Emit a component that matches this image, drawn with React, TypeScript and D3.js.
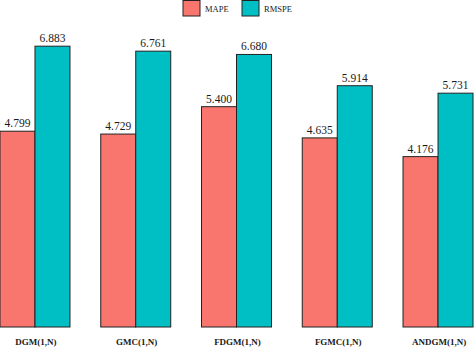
import React from "react";
import * as d3 from "d3";

const categories = ["DGM(1,N)", "GMC(1,N)", "FDGM(1,N)", "FGMC(1,N)", "ANDGM(1,N)"];
const seriesNames = ["MAPE", "RMSPE"];
const mapeValues = [4.799, 4.729, 5.4, 4.635, 4.176];
const rmspeValues = [6.883, 6.761, 6.68, 5.914, 5.731];
const valueLabels = [
  ["4.799", "4.729", "5.400", "4.635", "4.176"],
  ["6.883", "6.761", "6.680", "5.914", "5.731"],
];
const colors = ["#F8766D", "#00BFC4"];

const W = 474;
const H = 347;

export default function App() {
  const x0 = d3.scaleBand<string>().domain(categories).range([-15.4, 488.4]).padding(0);
  const groupW = 70;
  const x1 = d3.scaleBand<string>().domain(seriesNames).range([0, groupW]).padding(0);
  const y = d3.scaleLinear().domain([0, 8]).range([327, 0.6]);
  const data = [mapeValues, rmspeValues];
  const font = "'Times New Roman', Times, 'Liberation Serif', serif";

  return (
    <svg width={W} height={H} style={{ position: "absolute", left: 0, top: 0, background: "#fff" }}>
      <rect width={W} height={H} fill="#fff" />
      {categories.map((c, i) => {
        const cx = (x0(c) as number) + x0.bandwidth() / 2;
        return (
          <g key={c}>
            {seriesNames.map((s, j) => {
              const v = data[j][i];
              const bx = cx - groupW / 2 + (x1(s) as number);
              return (
                <g key={s}>
                  <rect
                    x={bx}
                    y={y(v)}
                    width={x1.bandwidth()}
                    height={y(0) - y(v)}
                    fill={colors[j]}
                    stroke="#222"
                    strokeWidth={1}
                  />
                  <text
                    x={bx + x1.bandwidth() / 2}
                    y={y(v) - 4}
                    textAnchor="middle"
                    style={{ fontFamily: font }}
                    fontSize={11.5}
                    fill="#1a1a1a"
                  >
                    {valueLabels[j][i]}
                  </text>
                </g>
              );
            })}
            <text
              x={cx + 1}
              y={344.5}
              textAnchor="middle"
              style={{ fontFamily: font }}
              fontWeight="bold"
              fontSize={9}
              fill="#1a1a1a"
            >
              {c}
            </text>
          </g>
        );
      })}
      {seriesNames.map((s, j) => {
        const lx = 183 + j * 59;
        return (
          <g key={s}>
            <rect x={lx} y={0.5} width={17} height={15.5} fill={colors[j]} stroke="#222" strokeWidth={1} />
            <text x={lx + 22} y={12} style={{ fontFamily: font }} fontSize={8.5} fill="#1a1a1a">
              {s}
            </text>
          </g>
        );
      })}
    </svg>
  );
}
